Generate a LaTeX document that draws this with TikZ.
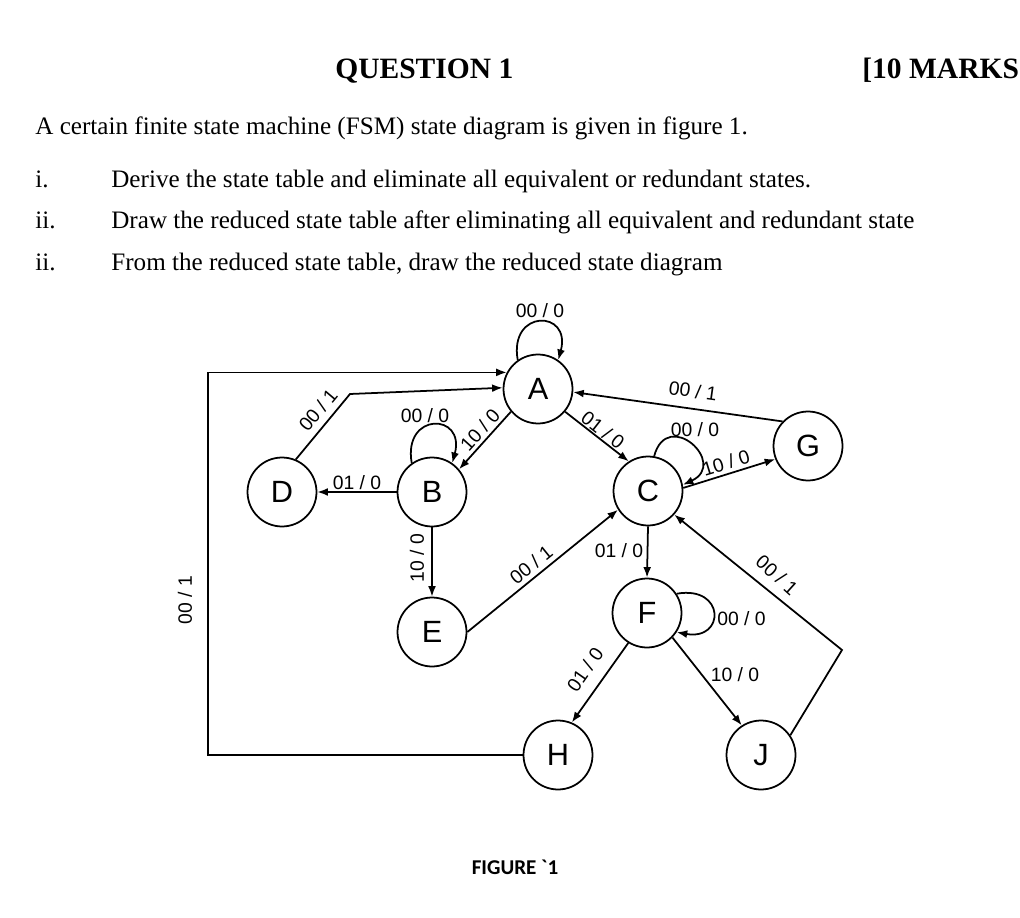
\documentclass[tikz,border=0pt]{standalone}
\usepackage{fontspec}
\setmainfont{Liberation Serif}
\newfontfamily\labelfont{Liberation Sans}
\newfontfamily\figfont{Carlito}
\usepackage{tikz}
\usetikzlibrary{arrows.meta,positioning}

\begin{document}
\begin{tikzpicture}[x=0.02cm,y=0.02cm,
  state/.style={draw,circle,line width=1pt,minimum size=1.38cm,inner sep=0pt,font=\labelfont\fontsize{17.5}{17.5}\selectfont},
  tr/.style={line width=1pt,-{Latex[length=6pt,width=4.5pt]}},
  lab/.style={font=\labelfont\fontsize{11}{11}\selectfont,inner sep=0pt},
  body/.style={anchor=base west,inner sep=0pt,font=\fontsize{14.3}{14.3}\selectfont}]
\useasboundingbox (0,0) rectangle (1020,-918);
\node[anchor=base west,inner sep=0pt,font=\bfseries\fontsize{16.8}{16.8}\selectfont] (title) at (335,-79) {QUESTION 1};
\node[anchor=base west,inner sep=0pt,font=\bfseries\fontsize{16.8}{16.8}\selectfont] (marks) at (862,-79) {[10 MARKS};
\node[body] (intro) at (35,-135) {A certain finite state machine (FSM) state diagram is given in figure 1.};
\node[body] (n1) at (35,-188) {i.};
\node[body] (q1) at (111,-188) {Derive the state table and eliminate all equivalent or redundant states.};
\node[body] (n2) at (35,-229) {ii.};
\node[body] (q2) at (111,-229) {Draw the reduced state table after eliminating all equivalent and redundant state};
\node[body] (n3) at (35,-271) {ii.};
\node[body] (q3) at (111,-271) {From the reduced state table, draw the reduced state diagram};

\node[state] (A) at (538,-389) {A};
\node[state] (B) at (432,-492) {B};
\node[state] (D) at (282,-492) {D};
\node[state] (C) at (648,-491) {C};
\node[state] (G) at (808,-446) {G};
\node[state] (E) at (432,-632) {E};
\node[state] (F) at (647,-613) {F};
\node[state] (H) at (558,-755) {H};
\node[state] (J) at (761,-755) {J};
\coordinate (frame) at (208,-755);
\coordinate (bend) at (350,-394);
\coordinate (jbend) at (842,-650);

\draw[tr] (A.125) to[out=100,in=75,looseness=3.3] (A.55);
\draw[tr] (H.west) -- (frame) |- (A.152);
\draw[tr] (D.67) -- (bend) -- (A.178);
\draw[tr] (A.220) -- (B.40);
\draw[tr] (B.125) to[out=100,in=75,looseness=3.3] (B.55);
\draw[tr] (B.west) -- (D.east);
\draw[tr] (A.320) -- (C.123);
\draw[tr] (G.136) -- (A.-5);
\draw[tr] (C.80) to[out=75,in=25,looseness=3.2] (C.10);
\draw[tr] (C.5) -- (G.202);
\draw[tr] (E.east) -- (C.212);
\draw[tr] (C.south) -- (F.north);
\draw[tr] (F.33) to[out=10,in=-10,looseness=3.3] (F.-33);
\draw[tr] (F.238) -- (H.67);
\draw[tr] (F.316) -- (J.123);
\draw[tr] (J.34) -- (jbend) -- (C.318);
\draw[tr] (B.south) -- (E.north);

\node[lab] (lAA) at (540,-311) {00 / 0};
\node[lab,rotate=90] (lHA) at (185,-600) {00 / 1};
\node[lab,rotate=50] (lDA) at (318,-410) {00 / 1};
\node[lab,rotate=48] (lAB) at (480,-430) {10 / 0};
\node[lab] (lBB) at (425,-416) {00 / 0};
\node[lab] (lBD) at (357,-483) {01 / 0};
\node[lab,rotate=-38] (lAC) at (603,-430) {01 / 0};
\node[lab,rotate=-8] (lGA) at (693,-391) {00 / 1};
\node[lab] (lCC) at (695,-430) {00 / 0};
\node[lab,rotate=17] (lCG) at (726,-463) {10 / 0};
\node[lab,rotate=39] (lEC) at (531,-565) {00 / 1};
\node[lab] (lCF) at (619,-551) {01 / 0};
\node[lab,anchor=west] (lFF) at (717,-619) {00 / 0};
\node[lab,rotate=55] (lFH) at (585,-670) {01 / 0};
\node[lab] (lFJ) at (735,-675) {10 / 0};
\node[lab,rotate=-42] (lJC) at (777,-575) {00 / 1};
\node[lab,rotate=90] (lBE) at (417,-558) {10 / 0};

\node[font=\figfont\bfseries\fontsize{12}{12}\selectfont] (fig) at (515,-867) {FIGURE \textasciigrave 1};
\end{tikzpicture}
\end{document}
